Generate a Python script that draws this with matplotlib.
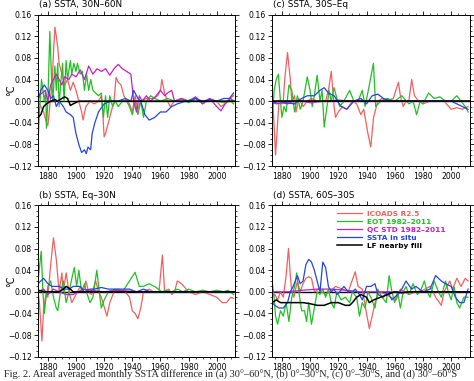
import matplotlib
matplotlib.use("Agg")
import matplotlib.pyplot as plt
from matplotlib.ticker import MultipleLocator
import numpy as np

# ---------------- data (year, value) ----------------
# Panel (a) 30N-60N
a_icoads = [(1873,0.0),(1875,-0.01),(1877,-0.02),(1879,-0.04),(1880,-0.045),(1881,-0.02),(1882,0.01),(1883,0.03),(1884,0.09),(1885,0.137),(1886,0.12),(1887,0.10),(1888,0.07),(1890,0.05),(1892,0.03),(1894,0.04),(1896,0.02),(1898,0.035),(1900,0.02),(1902,0.0),(1904,-0.02),(1905,-0.035),(1907,-0.01),(1910,0.0),(1913,-0.005),(1916,0.0),(1918,0.01),(1919,-0.02),(1920,-0.066),(1921,-0.06),(1923,-0.04),(1925,-0.02),(1927,0.0),(1928.5,0.044),(1930,0.035),(1932,0.03),(1934,0.01),(1936,0.0),(1938,-0.005),(1940,-0.02),(1942,0.01),(1944,-0.015),(1946,0.0),(1950,0.005),(1955,0.005),(1958,0.01),(1960,0.02),(1961,0.04),(1963,0.015),(1965,0.0),(1967,-0.01),(1970,0.0),(1975,0.005),(1980,0.0),(1985,0.005),(1990,-0.003),(1995,0.005),(2000,0.0),(2003,-0.01),(2006,-0.005),(2009,0.005),(2012,0.01)]
a_eot = [(1873,-0.08),(1874,-0.02),(1875.5,0.04),(1876.5,0.02),(1877.5,0.0),(1878.5,0.02),(1879,-0.05),(1880,0.0),(1881.4,0.129),(1882.5,0.05),(1883.5,0.0),(1885,0.065),(1886,0.02),(1887,0.07),(1888,-0.01),(1889,0.03),(1890.5,0.07),(1891.5,0.0),(1893,0.075),(1894,0.04),(1896,0.075),(1897,0.05),(1898.5,0.07),(1900,0.055),(1901,0.07),(1903,0.05),(1904.5,0.055),(1906,0.02),(1907.5,0.05),(1909,0.02),(1910.5,0.04),(1912,0.02),(1914,0.015),(1916,0.01),(1918,0.015),(1919.5,-0.03),(1921,0.01),(1922.5,-0.03),(1924,0.01),(1926,-0.01),(1928,0.0),(1930,-0.01),(1933,0.0),(1936,0.0),(1938,-0.01),(1940,-0.025),(1942,0.0),(1944,-0.025),(1946,0.0),(1948,-0.03),(1950,0.0),(1953,0.01),(1956,0.005),(1960,0.0),(1965,0.005),(1970,0.0),(1975,0.003),(1980,-0.003),(1985,0.005),(1990,-0.005),(1995,0.003),(2000,0.0),(2005,-0.003),(2010,0.0),(2012,-0.005)]
a_qcstd = [(1873,0.01),(1876,0.015),(1878,0.02),(1880,0.0),(1882,0.03),(1884,0.04),(1886,0.05),(1888,0.04),(1890,0.03),(1892,0.045),(1895,0.04),(1897,0.05),(1900,0.045),(1903,0.058),(1906,0.04),(1909,0.065),(1912,0.05),(1915,0.06),(1918,0.055),(1921,0.06),(1924,0.048),(1927,0.06),(1930,0.068),(1933,0.06),(1936,0.055),(1939,0.05),(1941,0.0),(1943,-0.02),(1945,0.01),(1947,0.0),(1950,0.01),(1953,0.0),(1957,0.01),(1960,0.02),(1963,0.01),(1965,0.015),(1968,0.02),(1970,0.0),(1975,0.005),(1980,0.0),(1985,0.008),(1990,-0.005),(1995,0.005),(2000,-0.01),(2003,-0.018),(2006,-0.005),(2010,0.005),(2012,0.0)]
a_insitu = [(1873,0.0),(1875,0.02),(1877.5,0.03),(1880,0.02),(1882,0.005),(1884,0.01),(1886,-0.01),(1888,0.0),(1891,-0.01),(1893,-0.02),(1896,-0.025),(1898,-0.03),(1900,-0.06),(1902,-0.08),(1904,-0.095),(1906,-0.09),(1907.3,-0.097),(1908.5,-0.085),(1910.4,-0.09),(1911.5,-0.06),(1913.4,-0.04),(1916,-0.02),(1920,-0.005),(1925,0.0),(1930,0.0),(1935,0.005),(1939,0.0),(1941,0.02),(1944,0.005),(1946,0.0),(1949,-0.025),(1952,-0.035),(1956,-0.03),(1960,-0.02),(1964,-0.02),(1968,-0.01),(1972,-0.005),(1978,0.0),(1985,0.005),(1990,0.0),(1995,0.003),(2000,0.0),(2005,0.005),(2009,0.005),(2012,0.015)]
a_lffill = [(1873,-0.03),(1875,-0.025),(1877,-0.01),(1879,-0.005),(1882,0.0),(1885,0.003),(1887,0.0),(1890,0.005),(1892,0.008),(1894,0.005),(1896,-0.008),(1898,-0.005),(1902,0.0),(2013,0.0)]

# Panel (b) Eq-30N
b_icoads = [(1873,0.0),(1874,-0.02),(1875.8,-0.091),(1877,-0.03),(1879,0.0),(1880,-0.01),(1882,0.05),(1884,0.1),(1886,0.06),(1888,0.0),(1890,0.035),(1891,0.0),(1893,0.035),(1895,0.0),(1897,-0.02),(1899,-0.01),(1901,0.0),(1903,0.01),(1905,0.0),(1907,0.02),(1909,0.0),(1911,-0.005),(1914,0.02),(1916,0.0),(1918,-0.01),(1922,-0.045),(1924,-0.02),(1927,0.0),(1930,0.005),(1935,0.0),(1938,-0.01),(1940,-0.035),(1942,-0.04),(1944,-0.05),(1946,-0.03),(1948,0.0),(1952,0.005),(1955,0.0),(1959,0.0),(1961.4,0.068),(1963,0.0),(1966,0.005),(1968,-0.005),(1970,0.0),(1972,0.02),(1975,0.015),(1980,0.0),(1985,-0.005),(1990,0.0),(1995,-0.005),(2000,-0.01),(2004,-0.02),(2007,-0.02),(2010,-0.01),(2012,-0.012)]
b_eot = [(1873,0.02),(1875.3,0.075),(1876.5,0.0),(1877.5,-0.04),(1878.5,-0.015),(1880,0.01),(1882,0.02),(1884,-0.01),(1886,-0.03),(1887,-0.035),(1889,0.0),(1891,0.02),(1893,-0.02),(1895,0.0),(1898.8,0.045),(1900.5,0.01),(1902,0.04),(1904,0.0),(1906,0.015),(1908,-0.005),(1910,-0.02),(1912,-0.01),(1914.8,0.04),(1916.5,0.0),(1918,-0.03),(1920,-0.015),(1923,0.0),(1928,0.005),(1933,0.0),(1938,0.02),(1942,0.036),(1945,0.01),(1948,0.01),(1952,0.015),(1957,0.008),(1961,0.0),(1964,0.003),(1968,0.0),(1972,0.005),(1976,0.0),(1980,0.005),(1985,0.0),(1990,0.003),(1995,0.0),(2000,0.003),(2005,0.0),(2008,0.003),(2012,-0.005)]
b_qcstd = [(1873,0.0),(1877,0.005),(1880,-0.005),(1884,0.005),(1888,0.0),(1893,-0.005),(1898,-0.005),(1905,0.005),(1910,0.003),(1920,0.0),(1930,0.003),(1945,0.0),(1960,0.0),(2013,0.0)]
b_insitu = [(1873,0.015),(1875,0.02),(1877,0.025),(1880,0.015),(1883,0.01),(1888,0.01),(1892,0.005),(1895,0.005),(1898,0.01),(1903,0.01),(1906,0.0),(1910,0.005),(1913,0.005),(1918,0.008),(1923,0.005),(1928,0.005),(1933,0.005),(1938,0.005),(1943,0.0),(1948,0.005),(1953,0.0),(1960,0.0),(2013,0.0)]
b_lffill = [(1873,0.003),(1878,0.0),(1888,0.0),(1891,0.005),(1893,0.01),(1896,0.005),(1898,0.0),(2013,0.0)]

# Panel (c) 30S-Eq
c_icoads = [(1873,0.0),(1874,-0.02),(1875.5,-0.1),(1877,-0.04),(1878,0.0),(1880,-0.005),(1881,0.0),(1882,0.04),(1884,0.09),(1886,0.04),(1887,0.0),(1889,0.01),(1890,-0.02),(1892,0.005),(1895,-0.01),(1898,0.0),(1901,0.005),(1905,0.0),(1908,0.0),(1911,0.0),(1913,0.02),(1915,0.055),(1917,-0.01),(1918,-0.03),(1920,-0.02),(1923,-0.01),(1926,-0.015),(1930,0.0),(1933,-0.005),(1936,-0.025),(1938,-0.015),(1941,-0.06),(1943,-0.085),(1945,-0.03),(1948,0.0),(1951,0.005),(1954,0.0),(1959,0.005),(1962.6,0.035),(1964,0.01),(1966,-0.01),(1968,0.0),(1970,0.0),(1972,0.04),(1974,0.01),(1977,0.0),(1980,-0.005),(1985,0.0),(1990,0.0),(1995,0.0),(2000,-0.015),(2004,-0.012),(2008,-0.015),(2012,-0.01)]
c_eot = [(1873,-0.04),(1874.5,0.02),(1876,0.04),(1877.5,0.05),(1879,0.0),(1880,-0.03),(1881.5,-0.01),(1883,-0.02),(1885,0.03),(1887,0.02),(1889,-0.02),(1891,0.01),(1893,-0.015),(1895,0.0),(1898,0.045),(1900,0.02),(1901.5,-0.01),(1903,0.01),(1905,0.048),(1907,0.0),(1908.5,0.02),(1910,-0.048),(1912,-0.01),(1913.5,0.02),(1915,0.0),(1917,0.025),(1919,0.005),(1921,-0.01),(1924,0.0),(1928,0.02),(1931,0.0),(1934,0.0),(1937,0.02),(1939,-0.01),(1942,0.03),(1944.9,0.07),(1946.5,-0.01),(1950,0.0),(1955,0.005),(1960,0.0),(1965,0.01),(1970,-0.005),(1973,0.0),(1975.5,-0.025),(1978,0.0),(1980,-0.005),(1984,0.015),(1988,0.005),(1992,0.008),(1996,0.0),(2000,0.0),(2004,0.01),(2007,0.0),(2010,-0.01),(2012,-0.02)]
c_qcstd = [(1873,0.0),(1876,-0.005),(1880,-0.003),(1884,-0.005),(1888,0.0),(1895,0.0),(1900,-0.003),(1910,0.0),(1920,0.002),(1930,0.0),(1950,0.0),(1970,0.0),(2013,0.0)]
c_insitu = [(1873,-0.005),(1878,0.0),(1883,-0.003),(1889,-0.005),(1894,0.005),(1898,0.01),(1903,0.01),(1907,0.02),(1910,0.025),(1913,0.015),(1917,0.01),(1922,-0.01),(1926,-0.015),(1931,0.0),(1936,0.005),(1940,-0.005),(1944,0.01),(1948,0.013),(1952,0.005),(1958,0.0),(1965,0.0),(1970,0.0),(1980,0.0),(1990,0.0),(2000,0.0),(2004,-0.005),(2008,-0.01),(2012,-0.015)]
c_lffill = [(1873,0.0),(2013,0.0)]

# Panel (d) 60S-30S
d_icoads = [(1873,-0.01),(1875,-0.005),(1877,-0.015),(1879,0.0),(1881,-0.01),(1883,0.03),(1884.7,0.08),(1886,0.03),(1887,0.0),(1888.5,-0.01),(1891,0.02),(1893,0.0),(1895,0.015),(1897,0.025),(1899,0.028),(1901,0.025),(1903,0.0),(1906,0.005),(1908,0.0),(1911,-0.005),(1914,0.0),(1918,0.01),(1923,0.005),(1927,0.0),(1932,0.037),(1934,0.01),(1937,0.005),(1940,-0.04),(1942,-0.068),(1944,-0.045),(1946,-0.02),(1949,0.0),(1954,-0.005),(1957,-0.01),(1961,-0.015),(1964,0.005),(1967,0.0),(1970,-0.005),(1975,0.0),(1980,0.003),(1985,0.01),(1989,-0.01),(1993,-0.025),(1995,0.0),(1999,0.02),(2001,0.005),(2004,0.025),(2007,0.01),(2010,0.025),(2012,0.02)]
d_eot = [(1873,0.02),(1874.5,-0.01),(1875.5,-0.045),(1877,-0.06),(1879,-0.035),(1881,-0.045),(1883,-0.02),(1885,-0.055),(1887,-0.01),(1889,0.01),(1890.5,0.035),(1892,0.0),(1894,-0.035),(1896,-0.035),(1897.5,-0.055),(1899,-0.02),(1901,-0.06),(1903,-0.03),(1905,0.0),(1907,-0.005),(1909,0.005),(1911,-0.01),(1913,0.005),(1915,-0.02),(1917,-0.03),(1919,0.0),(1922,-0.015),(1925,-0.01),(1928,-0.02),(1930,0.0),(1933,-0.01),(1935,-0.045),(1937,-0.02),(1939,-0.03),(1941,0.0),(1943,-0.01),(1946,-0.03),(1948,0.005),(1951,-0.01),(1954,-0.02),(1956,0.03),(1958,0.0),(1960,-0.02),(1962,0.0),(1964,-0.03),(1966,0.0),(1968,0.01),(1970,-0.005),(1973,0.015),(1976,-0.005),(1978,0.0),(1981,0.02),(1983,0.0),(1985,-0.01),(1988,0.02),(1991,0.0),(1993,-0.01),(1996,0.02),(1998,0.0),(2000,-0.015),(2002,0.01),(2004,-0.02),(2006,-0.03),(2009,-0.01),(2012,-0.01)]
d_qcstd = [(1873,0.0),(1885,0.0),(1895,0.003),(1905,0.005),(1915,0.005),(1925,0.003),(1935,0.0),(1950,0.0),(2013,0.0)]
d_insitu = [(1873,-0.02),(1875,-0.025),(1878,-0.03),(1881,-0.03),(1884,-0.02),(1886,0.0),(1888,0.01),(1891,0.03),(1893,0.015),(1895,0.02),(1897,0.05),(1899,0.06),(1901,0.055),(1903,0.04),(1905,0.02),(1907,0.0),(1909,0.055),(1911,0.045),(1913,0.01),(1915,0.0),(1917,0.005),(1919,-0.005),(1921,0.0),(1924,0.01),(1927,0.0),(1930,0.0),(1932,0.005),(1935,-0.005),(1937,-0.015),(1940,0.01),(1943,0.01),(1946,0.015),(1948,-0.005),(1952,-0.01),(1955,0.0),(1958,-0.015),(1962,-0.005),(1965,0.005),(1968,0.02),(1972,0.005),(1975,0.01),(1980,0.0),(1985,0.005),(1989,0.03),(1993,0.02),(1996,0.015),(2000,0.01),(2003,-0.01),(2006,-0.02),(2009,-0.02),(2012,0.005)]
d_lffill = [(1873,-0.02),(1876,-0.015),(1879,-0.02),(1885,-0.02),(1890,-0.02),(1895,-0.02),(1900,-0.022),(1905,-0.025),(1910,-0.025),(1915,-0.02),(1920,-0.02),(1925,-0.025),(1928,-0.025),(1930,-0.02),(1933,-0.01),(1936,-0.005),(1940,-0.01),(1942,-0.02),(1945,-0.015),(1950,-0.01),(1955,-0.005),(1960,0.0),(1965,-0.002),(1970,0.0),(2013,0.0)]

series_names = ["ICOADS R2.5", "EOT 1982\u20132011", "QC STD 1982\u20132011", "SSTA in situ", "LF nearby fill"]
series_colors = ["#f06060", "#22c022", "#c020c8", "#2545e0", "#000000"]
panel_titles = ["(a) SSTA, 30N\u201360N", "(b) SSTA, Eq\u201330N", "(c) SSTA, 30S\u2013Eq", "(d) SSTA, 60S\u201330S"]
yticks = [-0.12, -0.08, -0.04, 0.00, 0.04, 0.08, 0.12, 0.16]
xticks = [1880, 1900, 1920, 1940, 1960, 1980, 2000]

panels = [
    [a_icoads, a_eot, a_qcstd, a_insitu, a_lffill],
    [b_icoads, b_eot, b_qcstd, b_insitu, b_lffill],
    [c_icoads, c_eot, c_qcstd, c_insitu, c_lffill],
    [d_icoads, d_eot, d_qcstd, d_insitu, d_lffill],
]

plt.rcParams['font.family'] = ['DejaVu Sans']
W, H = 474, 381
fig = plt.figure(figsize=(W / 100, H / 100), dpi=100)

def frac_rect(x0, y0, x1, y1):
    return [x0 / W, 1 - y1 / H, (x1 - x0) / W, (y1 - y0) / H]

rects = [
    frac_rect(38, 14.7, 235, 166),
    frac_rect(38, 205.3, 235, 356.7),
    frac_rect(272, 14.7, 469.5, 166),
    frac_rect(272, 205.3, 469.5, 356.7),
]

for i, (rect, data, title) in enumerate(zip(rects, panels, panel_titles)):
    ax = fig.add_axes(rect)
    for s, (pts, col, name) in enumerate(zip(data, series_colors, series_names)):
        arr = np.array(pts)
        lw = 1.1 if s == 4 else 0.9
        ax.plot(arr[:, 0], arr[:, 1], color=col, lw=lw, label=name, zorder=2 + (s == 4))
    ax.axhline(0, color='black', lw=1.0, zorder=1)
    ax.set_xlim(1873, 2013)
    ax.set_ylim(-0.12, 0.16)
    ax.set_xticks(xticks)
    ax.set_yticks(yticks)
    ax.set_yticklabels([f"{v:.2f}".replace("-", "\u2212") for v in yticks])
    ax.xaxis.set_minor_locator(MultipleLocator(5))
    ax.yaxis.set_minor_locator(MultipleLocator(0.01))
    ax.tick_params(which='both', direction='out', top=True, right=True,
                   labelsize=5.6, pad=1.5)
    ax.tick_params(which='major', length=3, width=0.6)
    ax.tick_params(which='minor', length=1.5, width=0.5)
    for sp in ax.spines.values():
        sp.set_linewidth(0.7)
    ax.text(0.003, 1.035, title, transform=ax.transAxes, fontsize=6.4,
            ha='left', va='bottom')
    if i < 2:
        ycen = rect[1] + rect[3] / 2
        fig.text(11 / W, ycen, "\u00b0C", rotation=90, fontsize=7,
                 ha='center', va='center')
    if i == 3:
        leg = ax.legend(loc='upper left', bbox_to_anchor=(0.33, 0.965),
                        frameon=False, fontsize=5.3, handlelength=3.4,
                        handletextpad=0.7, labelspacing=0.25, borderpad=0,
                        borderaxespad=0)
        for txt, col in zip(leg.get_texts(), series_colors):
            txt.set_color(col)
            txt.set_fontweight('bold')

fig.text(4 / W, 1 - 380.5 / H,
         "Fig. 2. Areal averaged monthly SSTA difference in (a) 30\u00b0\u201360\u00b0N, (b) 0\u00b0\u201330\u00b0N, (c) 0\u00b0\u201330\u00b0S, and (d) 30\u00b0\u201360\u00b0S",
         fontsize=7.4, family=['Liberation Serif', 'DejaVu Serif'], ha='left',
         va='bottom', color='#222222')

fig.savefig("out.png", dpi=100)
